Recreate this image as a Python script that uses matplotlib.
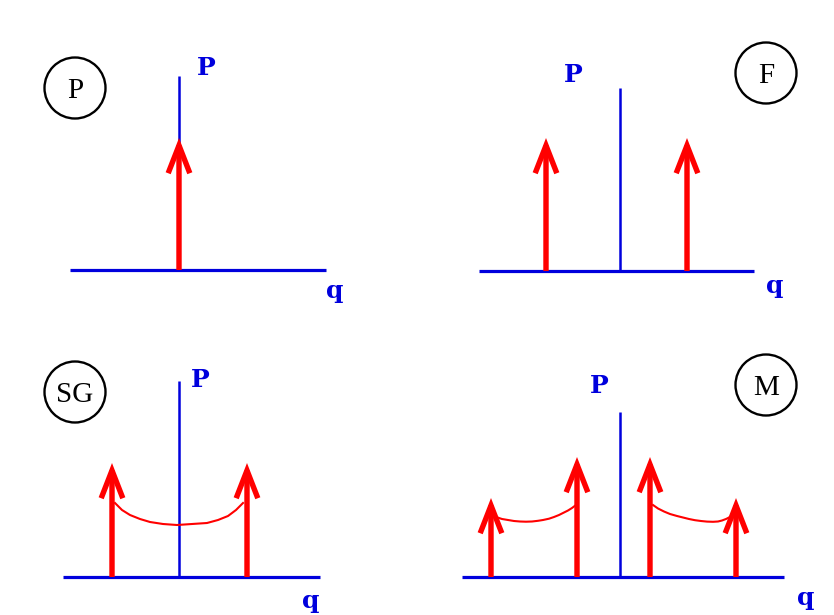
import matplotlib
matplotlib.use("Agg")
import matplotlib.pyplot as plt
from matplotlib.patches import Circle, ArrowStyle

# ---------------- data (offsets from each panel's origin, in pixels) ----------------
panel_names = ["P", "F", "SG", "M"]
axis_label_p = "P"
axis_label_q = "q"

P_arrow_q = [0]
P_arrow_h = [132]

F_arrow_q = [-74, 67]
F_arrow_h = [133, 133]

SG_arrow_q = [-67, 68]
SG_arrow_h = [114, 114]
SG_curve_q = [-64, -57, -49, -39, -29, -16, -2, 13, 28, 39, 49, 57, 64]
SG_curve_p = [74, 67, 62, 58, 55, 53, 52, 53, 54, 57, 61, 67, 74]

M_arrow_q = [-129, -43, 30, 116]
M_arrow_h = [79, 120, 120, 79]
M_curve1_q = [-124, -118, -112, -106, -100, -94, -88, -82, -77, -71, -66, -61, -57, -52, -48, -44]
M_curve1_p = [60, 58, 57, 56, 55.5, 55.3, 55.5, 56.2, 57, 58.3, 60, 62, 64, 66.5, 69, 72]
M_curve2_q = [33, 38, 44, 50, 57, 63, 69, 75, 81, 87, 93, 98, 102, 106, 110]
M_curve2_p = [72, 68.5, 65.5, 63, 61, 59.5, 58, 56.8, 56, 55.4, 55.2, 55.5, 56.5, 58, 60]

# ---------------- layout ----------------
W, H = 834, 615
RED = "#ff0000"
BLUE = "#0000dd"

panels = [
    dict(name=panel_names[0], origin=(179, 270), qaxis=(-109, 147), ptop=194,
         arrows=(P_arrow_q, P_arrow_h), curves=[],
         plabel=(27, 195), qlabel=(156, -28), circle=(-104, 182)),
    dict(name=panel_names[1], origin=(620, 271), qaxis=(-141, 134), ptop=183,
         arrows=(F_arrow_q, F_arrow_h), curves=[],
         plabel=(-47, 189), qlabel=(155, -22), circle=(146, 198)),
    dict(name=panel_names[2], origin=(179, 577), qaxis=(-116, 141), ptop=196,
         arrows=(SG_arrow_q, SG_arrow_h), curves=[(SG_curve_q, SG_curve_p)],
         plabel=(21, 190), qlabel=(132, -31), circle=(-104, 185)),
    dict(name=panel_names[3], origin=(620, 577), qaxis=(-158, 164), ptop=165,
         arrows=(M_arrow_q, M_arrow_h),
         curves=[(M_curve1_q, M_curve1_p), (M_curve2_q, M_curve2_p)],
         plabel=(-21, 184), qlabel=(186, -28), circle=(146, 192)),
]

fig = plt.figure(figsize=(W / 100, H / 100), dpi=100)
fig.patch.set_facecolor("white")

head = ArrowStyle("->", head_length=20, head_width=7.8)

for pn in panels:
    ox, oy = pn["origin"]
    ax = fig.add_axes([0, 0, 1, 1], facecolor="none")
    ax.set_xlim(-ox, W - ox)
    ax.set_ylim(oy - H, oy)
    ax.axis("off")

    # axes lines
    ax.plot(pn["qaxis"], [0, 0], color=BLUE, lw=2.3, solid_capstyle="butt")
    ax.plot([0, 0], [0, pn["ptop"]], color=BLUE, lw=1.8, solid_capstyle="butt")

    # curves
    for cq, cp in pn["curves"]:
        ax.plot(cq, cp, color=RED, lw=1.5, solid_joinstyle="round")

    # arrows
    for q, h in zip(*pn["arrows"]):
        ax.annotate("", xy=(q, h), xytext=(q, 0),
                    arrowprops=dict(arrowstyle=head, color=RED, lw=3.9,
                                    mutation_scale=1, shrinkA=0, shrinkB=0,
                                    joinstyle="miter", capstyle="butt"))

    # axis labels
    ax.text(*pn["plabel"], axis_label_p, color=BLUE, fontsize=18,
            fontweight="bold", family="DejaVu Serif", ha="center", va="baseline")
    ax.text(*pn["qlabel"], axis_label_q, color=BLUE, fontsize=18,
            fontweight="bold", family="DejaVu Serif", ha="center", va="baseline")

    # circled panel name
    cx, cy = pn["circle"]
    ax.add_patch(Circle((cx, cy), 30.5, fill=False, ec="black", lw=1.7))
    ax.text(cx, cy, pn["name"], fontsize=21, family="Liberation Serif",
            ha="center", va="center_baseline", color="black")

fig.savefig("out.png", dpi=100, facecolor="white")
